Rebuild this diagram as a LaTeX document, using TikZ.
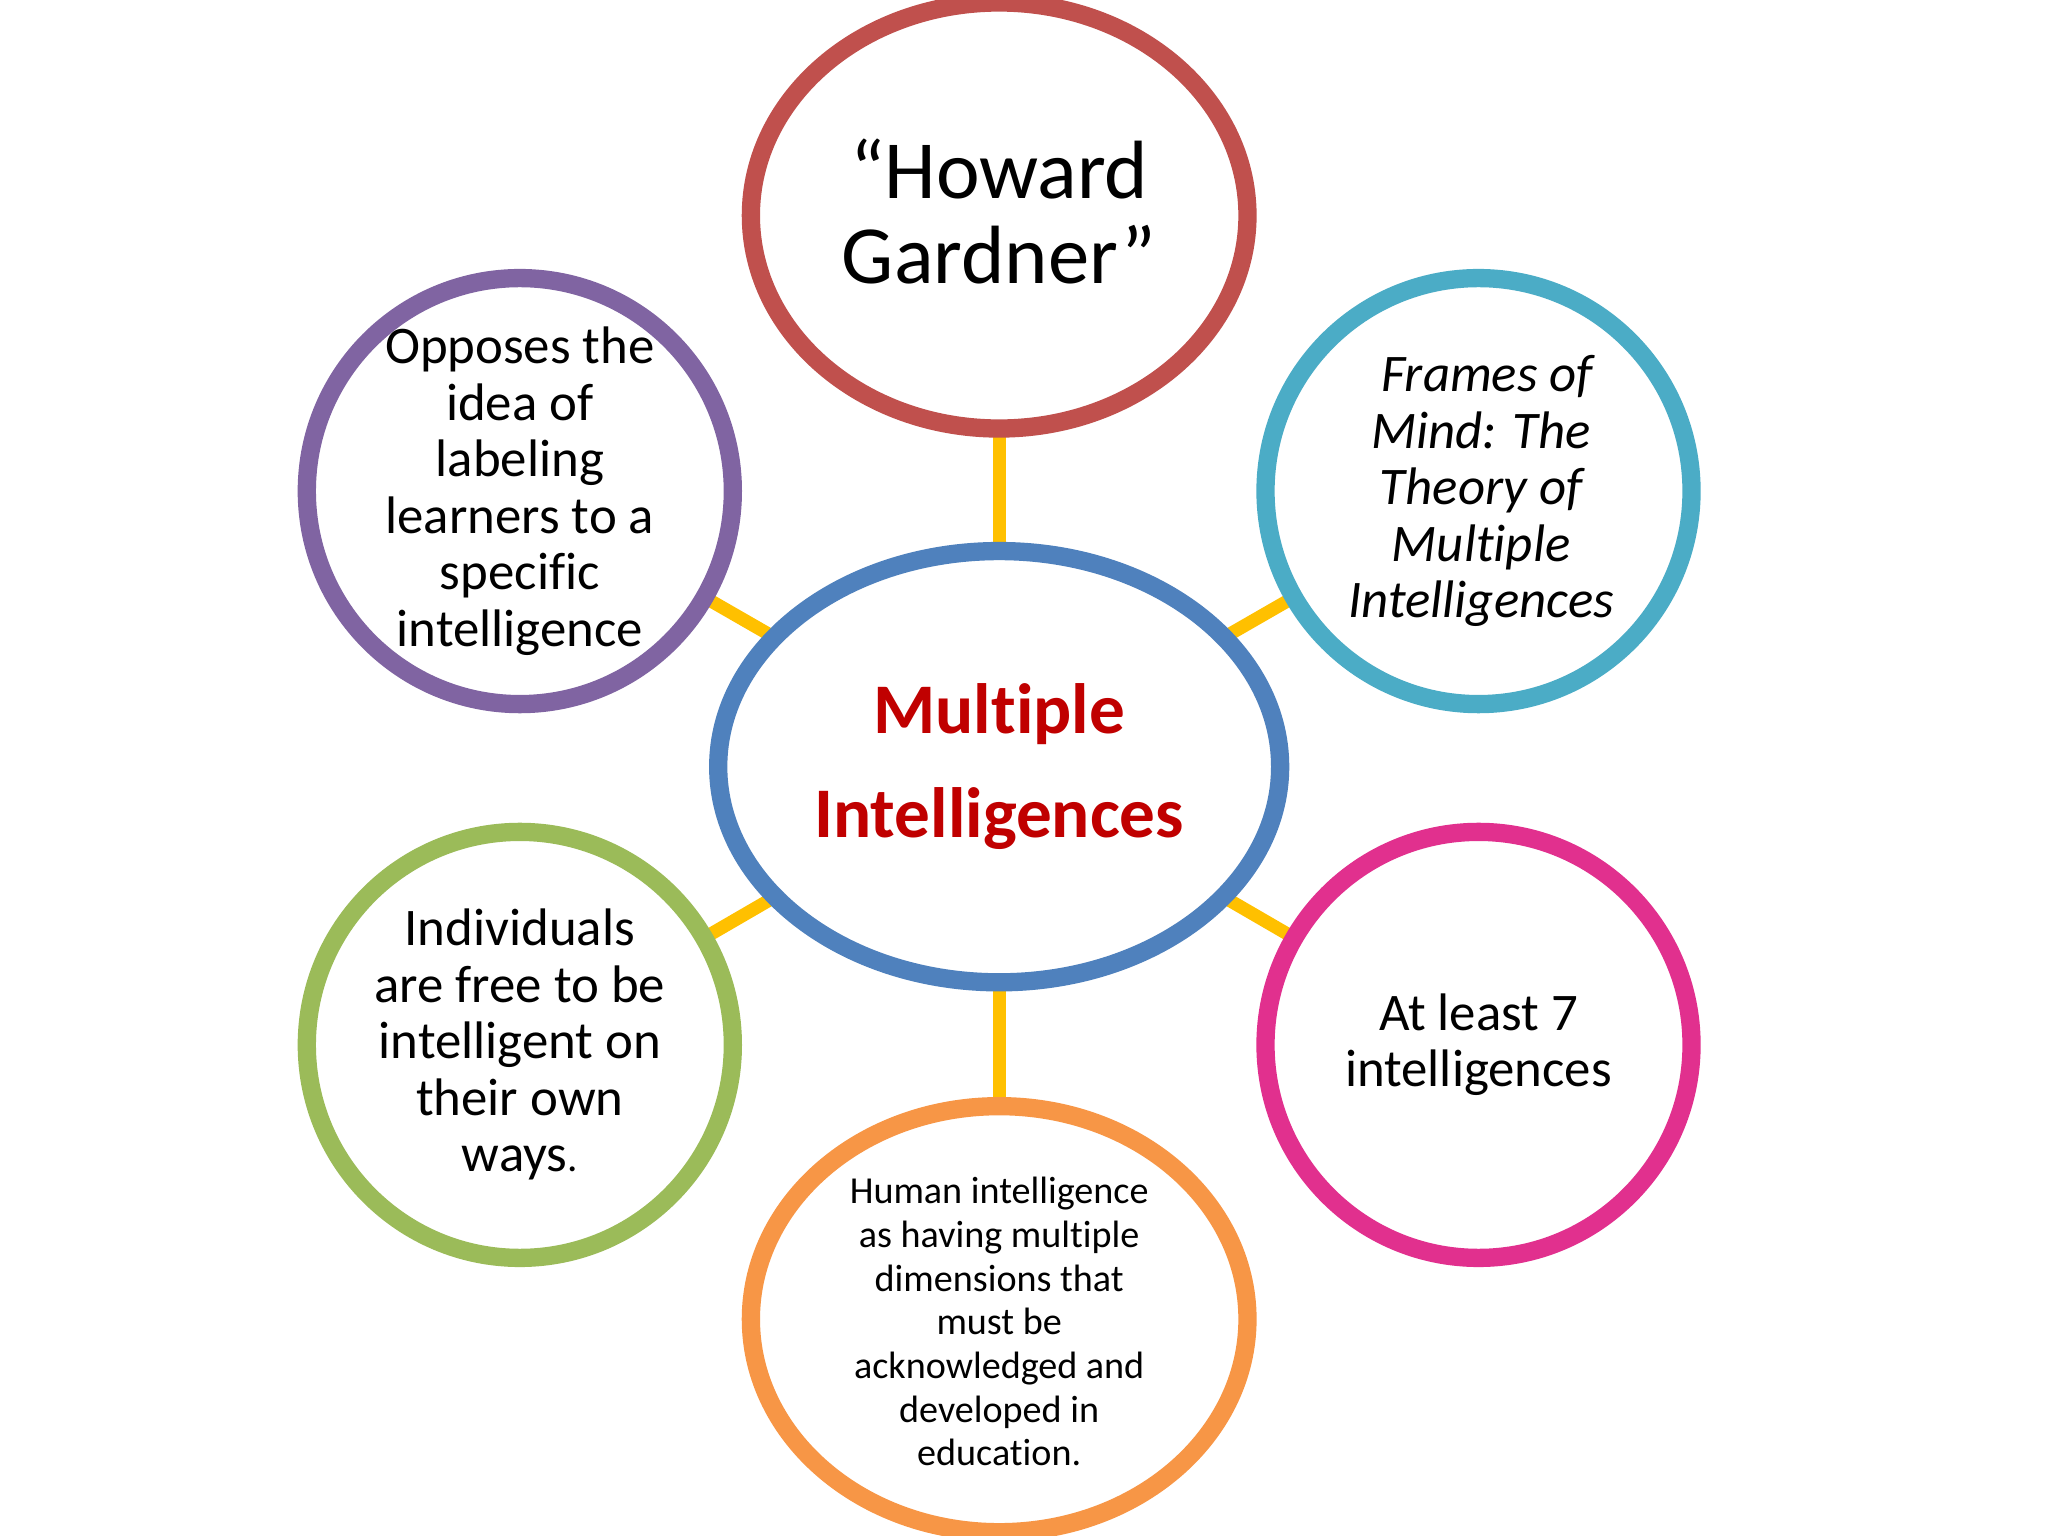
\documentclass[tikz,border=0pt]{standalone}
\usepackage{fontspec}
\setmainfont[Ligatures={NoCommon}]{Carlito}
\usetikzlibrary{shapes.geometric,backgrounds}
\definecolor{cred}{HTML}{C0504D}
\definecolor{cblue}{HTML}{4F81BD}
\definecolor{cpurple}{HTML}{8064A2}
\definecolor{ccyan}{HTML}{4BACC6}
\definecolor{cgreen}{HTML}{9BBB59}
\definecolor{cpink}{HTML}{E1308E}
\definecolor{corange}{HTML}{F79646}
\definecolor{cyel}{HTML}{FFC000}
\definecolor{tred}{HTML}{C00000}
\tikzset{
  bub/.style={ellipse, draw=#1, line width=0.14cm, fill=white, inner sep=0pt},
  link/.style={draw=cyel, line width=0.1cm},
  txt/.style={align=center, inner sep=0pt, font=\fontsize{11.5}{12.3}\selectfont}
}
\begin{document}
\begin{tikzpicture}[x=0.01cm,y=-0.01cm]
\useasboundingbox (0,0) rectangle (1568,1176);
\node[bub=cred, minimum width=3.8cm, minimum height=3.26cm] (top) at (765,165) {};
\node[bub=cblue, minimum width=4.3cm, minimum height=3.3cm] (mid) at (765,587) {};
\node[bub=cpurple, minimum width=3.26cm, minimum height=3.26cm] (pur) at (398,376) {};
\node[bub=ccyan, minimum width=3.26cm, minimum height=3.26cm] (cya) at (1132,376) {};
\node[bub=cgreen, minimum width=3.26cm, minimum height=3.26cm] (gre) at (398,800) {};
\node[bub=cpink, minimum width=3.26cm, minimum height=3.26cm] (pin) at (1132,800) {};
\node[bub=corange, minimum width=3.8cm, minimum height=3.26cm] (ora) at (765,1010) {};
\node[txt, font=\fontsize{18}{18.5}\selectfont] (topt) at (765,162) {“Howard\\Gardner”};
\node[txt, font=\fontsize{15.5}{22.7}\selectfont\bfseries, text=tred] (midt) at (765,587) {Multiple\\Intelligences};
\node[txt] (purt) at (398,376) {Opposes the\\idea of\\labeling\\learners to a\\specific\\intelligence};
\node[txt, font=\fontsize{11.5}{12.3}\selectfont\itshape] (cyat) at (1134,376) {\ Frames of\\Mind: The\\Theory of\\Multiple\\Intelligences};
\node[txt] (gret) at (398,800) {Individuals\\are free to be\\intelligent on\\their own\\ways{\fontsize{9}{9}\selectfont.}};
\node[txt] (pint) at (1132,800) {At least 7\\intelligences};
\node[txt, font=\fontsize{8.3}{9.5}\selectfont] (orat) at (765,1012) {Human intelligence\\as having multiple\\dimensions that\\must be\\acknowledged and\\developed in\\education.};
\begin{pgfonlayer}{background}
\draw[link] (top.center) -- (mid.center);
\draw[link] (mid.center) -- (ora.center);
\draw[link] (mid.center) -- (pur.center);
\draw[link] (mid.center) -- (cya.center);
\draw[link] (mid.center) -- (gre.center);
\draw[link] (mid.center) -- (pin.center);
\end{pgfonlayer}
\end{tikzpicture}
\end{document}
